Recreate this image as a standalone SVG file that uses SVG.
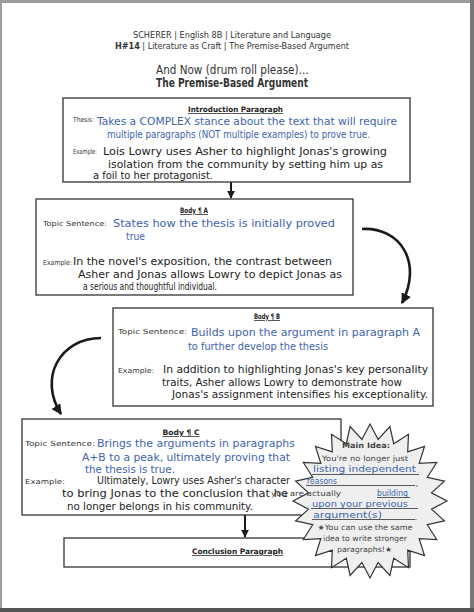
<svg xmlns="http://www.w3.org/2000/svg" width="474" height="612" viewBox="0 0 474 612">
<style>
.pr{font-family:"DejaVu Sans","Liberation Sans",sans-serif;fill:#333;}
.lb{font-family:"DejaVu Sans","Liberation Sans",sans-serif;font-size:7px;fill:#333;}
.ttl{font-family:"DejaVu Sans","Liberation Sans",sans-serif;font-size:7.5px;font-weight:bold;fill:#222;text-decoration:underline;text-anchor:middle;}
.hb{font-family:"DejaVu Sans","Liberation Sans",sans-serif;font-size:10.5px;fill:#4063ad;}
.hk{font-family:"DejaVu Sans","Liberation Sans",sans-serif;font-size:10.5px;fill:#222;}
.box{fill:#fff;stroke:#333;stroke-width:1.3;}
.st{font-family:"DejaVu Sans","Liberation Sans",sans-serif;font-size:7.5px;fill:#444;text-anchor:middle;}
.sh{font-family:"DejaVu Sans","Liberation Sans",sans-serif;font-size:9px;fill:#4063ad;}
.ul{stroke:#333;stroke-width:0.8;fill:none;}
.con{fill:none;stroke:#1a1a1a;}
</style>
<defs>
<marker id="ah" viewBox="0 0 10 10" refX="9" refY="5" markerWidth="4" markerHeight="4" orient="auto" markerUnits="strokeWidth">
<path d="M0,0 L10,5 L0,10 z" fill="#1a1a1a"/>
</marker>
</defs>
<rect x="0" y="0" width="474" height="612" fill="#9c9c9c"/>
<rect x="470" y="0" width="4" height="612" fill="#777"/>
<rect x="0" y="608" width="474" height="4" fill="#555"/>
<rect x="2" y="3" width="468" height="605" fill="#fff"/>

<g id="header">
<text class="pr" x="232" y="38" font-size="8" text-anchor="middle" textLength="198" lengthAdjust="spacingAndGlyphs">SCHERER | English 8B | Literature and Language</text>
<text class="pr" x="232" y="49" font-size="8" text-anchor="middle" textLength="234" lengthAdjust="spacingAndGlyphs"><tspan font-weight="bold">H#14</tspan> | Literature as Craft | The Premise-Based Argument</text>
<text class="pr" x="232.5" y="74" font-size="11.5" text-anchor="middle" textLength="153" lengthAdjust="spacingAndGlyphs" fill="#222">And Now (drum roll please)…</text>
<text class="pr" x="232" y="87" font-size="11.5" font-weight="bold" text-anchor="middle" textLength="152" lengthAdjust="spacingAndGlyphs" fill="#111">The Premise-Based Argument</text>
</g>

<g id="connectors">
<line class="con" x1="231" y1="182" x2="231" y2="198" stroke-width="2" marker-end="url(#ah)"/>
<path class="con" d="M362,229 C400,227 423,262 402,303" stroke-width="2.6" marker-end="url(#ah)"/>
<path class="con" d="M101,338 C60,338 38,378 61,414" stroke-width="2.6" marker-end="url(#ah)"/>
<line class="con" x1="245" y1="515" x2="245" y2="537" stroke-width="2" marker-end="url(#ah)"/>
</g>

<g id="intro">
<rect class="box" x="63" y="98" width="347" height="84"/>
<text class="ttl" x="235.5" y="112" textLength="95" lengthAdjust="spacingAndGlyphs">Introduction Paragraph</text>
<text class="lb" x="73" y="122" textLength="21" lengthAdjust="spacingAndGlyphs">Thesis:</text>
<text class="hb" x="97" y="125" textLength="300" lengthAdjust="spacingAndGlyphs">Takes a COMPLEX stance about the text that will require</text>
<text class="hb" x="107" y="138" textLength="263" lengthAdjust="spacingAndGlyphs">multiple paragraphs (NOT multiple examples) to prove true.</text>
<text class="lb" x="73" y="154" textLength="24" lengthAdjust="spacingAndGlyphs">Example:</text>
<text class="hk" x="103" y="155" textLength="284" lengthAdjust="spacingAndGlyphs">Lois Lowry uses Asher to highlight Jonas's growing</text>
<text class="hk" x="108" y="168" textLength="275" lengthAdjust="spacingAndGlyphs">isolation from the community by setting him up as</text>
<text class="hk" x="93" y="179" textLength="120" lengthAdjust="spacingAndGlyphs">a foil to her protagonist.</text>
</g>

<g id="bodyA">
<rect class="box" x="36" y="199" width="317" height="96"/>
<text class="ttl" x="194" y="213" textLength="28" lengthAdjust="spacingAndGlyphs">Body ¶ A</text>
<text class="lb" x="43" y="226" textLength="64" lengthAdjust="spacingAndGlyphs">Topic Sentence:</text>
<text class="hb" x="113" y="227" textLength="222" lengthAdjust="spacingAndGlyphs">States how the thesis is initially proved</text>
<text class="hb" x="126" y="240" textLength="19" lengthAdjust="spacingAndGlyphs">true</text>
<text class="lb" x="43" y="265" textLength="29" lengthAdjust="spacingAndGlyphs">Example:</text>
<text class="hk" x="73" y="265" textLength="259" lengthAdjust="spacingAndGlyphs">In the novel's exposition, the contrast between</text>
<text class="hk" x="78" y="278" textLength="264" lengthAdjust="spacingAndGlyphs">Asher and Jonas allows Lowry to depict Jonas as</text>
<text class="hk" x="83" y="290" textLength="134" lengthAdjust="spacingAndGlyphs">a serious and thoughtful individual.</text>
</g>

<g id="bodyB">
<rect class="box" x="113" y="308" width="320" height="98"/>
<text class="ttl" x="267" y="319" textLength="26" lengthAdjust="spacingAndGlyphs">Body ¶ B</text>
<text class="lb" x="118" y="334" textLength="69" lengthAdjust="spacingAndGlyphs">Topic Sentence:</text>
<text class="hb" x="191" y="336" textLength="229" lengthAdjust="spacingAndGlyphs">Builds upon the argument in paragraph A</text>
<text class="hb" x="188" y="350" textLength="140" lengthAdjust="spacingAndGlyphs">to further develop the thesis</text>
<text class="lb" x="118" y="373" textLength="36" lengthAdjust="spacingAndGlyphs">Example:</text>
<text class="hk" x="163" y="373" textLength="265" lengthAdjust="spacingAndGlyphs">In addition to highlighting Jonas's key personality</text>
<text class="hk" x="162" y="386" textLength="240" lengthAdjust="spacingAndGlyphs">traits, Asher allows Lowry to demonstrate how</text>
<text class="hk" x="172" y="398" textLength="256" lengthAdjust="spacingAndGlyphs">Jonas's assignment intensifies his exceptionality.</text>
</g>

<g id="bodyC">
<rect class="box" x="22" y="419" width="319" height="96"/>
<text class="ttl" x="181" y="435" font-size="8.5" textLength="37" lengthAdjust="spacingAndGlyphs">Body ¶ C</text>
<text class="lb" x="25" y="446" textLength="70" lengthAdjust="spacingAndGlyphs">Topic Sentence:</text>
<text class="hb" x="97" y="447" textLength="198" lengthAdjust="spacingAndGlyphs">Brings the arguments in paragraphs</text>
<text class="hb" x="82" y="461" textLength="208" lengthAdjust="spacingAndGlyphs">A+B to a peak, ultimately proving that</text>
<text class="hb" x="85" y="473" textLength="90" lengthAdjust="spacingAndGlyphs">the thesis is true.</text>
<text class="lb" x="25" y="484" textLength="40" lengthAdjust="spacingAndGlyphs">Example:</text>
<text class="hk" x="97" y="484" textLength="193" lengthAdjust="spacingAndGlyphs">Ultimately, Lowry uses Asher's character</text>
<text class="hk" x="62" y="497" textLength="226" lengthAdjust="spacingAndGlyphs">to bring Jonas to the conclusion that he</text>
<text class="hk" x="67" y="510" textLength="186" lengthAdjust="spacingAndGlyphs">no longer belongs in his community.</text>
</g>

<g id="conclusion">
<rect class="box" x="64" y="538" width="346" height="29"/>
<text class="ttl" x="237.5" y="554" font-size="8" textLength="91" lengthAdjust="spacingAndGlyphs">Conclusion Paragraph</text>
</g>

<g id="mainIdea">
<polygon fill="#efefef" stroke="#333" stroke-width="1.2" points="447,501 431.5,509.1 444.4,520.9 427.3,524.7 436.7,539.5 419.2,538.7 424.5,555.5 407.7,550.2 408.5,567.7 393.7,558.3 389.9,575.4 378.1,562.5 370,578 361.9,562.5 350.1,575.4 346.3,558.3 331.5,567.7 332.3,550.2 315.5,555.5 320.8,538.7 303.3,539.5 312.7,524.7 295.6,520.9 308.5,509.1 293,501 308.5,492.9 295.6,481.1 312.7,477.3 303.3,462.5 320.8,463.3 315.5,446.5 332.3,451.8 331.5,434.3 346.3,443.7 350.1,426.6 361.9,439.5 370,424 378.1,439.5 389.9,426.6 393.7,443.7 408.5,434.3 407.7,451.8 424.5,446.5 419.2,463.3 436.7,462.5 427.3,477.3 444.4,481.1 431.5,492.9"/>
<text class="st" x="366" y="448" font-weight="bold" fill="#222" textLength="48" lengthAdjust="spacingAndGlyphs">Main Idea:</text>
<text class="st" x="365" y="461" textLength="86" lengthAdjust="spacingAndGlyphs">You're no longer just</text>
<text class="sh" x="313" y="472" textLength="103" lengthAdjust="spacingAndGlyphs">listing independent</text>
<line class="ul" x1="312" y1="474.5" x2="419" y2="474.5"/>
<text class="sh" x="307" y="483.5" textLength="30" lengthAdjust="spacingAndGlyphs">reasons</text>
<line class="ul" x1="306" y1="485.5" x2="415" y2="485.5"/>
<text class="st" x="417" y="486" text-anchor="start">,</text>
<text class="st" x="306" y="496" text-anchor="start" textLength="70" lengthAdjust="spacingAndGlyphs">you are actually</text>
<text class="sh" x="377" y="495.5" textLength="31" lengthAdjust="spacingAndGlyphs">building</text>
<line class="ul" x1="377" y1="497.5" x2="410" y2="497.5"/>
<text class="sh" x="312" y="506.5" textLength="96" lengthAdjust="spacingAndGlyphs">upon your previous</text>
<line class="ul" x1="311" y1="508.5" x2="418" y2="508.5"/>
<text class="sh" x="313" y="517.5" textLength="69" lengthAdjust="spacingAndGlyphs">argument(s)</text>
<line class="ul" x1="312" y1="519.5" x2="415" y2="519.5"/>
<text class="st" x="416" y="519.5" text-anchor="start">.</text>
<text class="st" x="365" y="530" textLength="95" lengthAdjust="spacingAndGlyphs">★You can use the same</text>
<text class="st" x="365" y="541" textLength="84" lengthAdjust="spacingAndGlyphs">idea to write stronger</text>
<text class="st" x="364.5" y="552" textLength="55" lengthAdjust="spacingAndGlyphs">paragraphs!★</text>
</g>
</svg>
